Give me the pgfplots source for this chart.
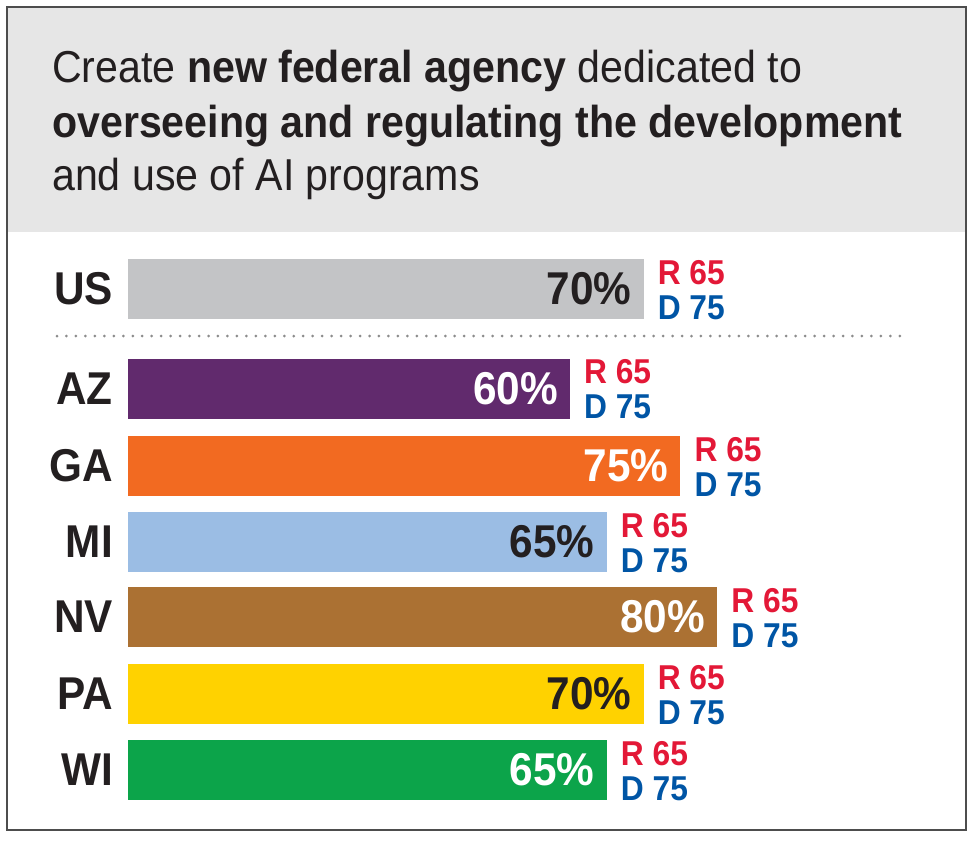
\documentclass[border=0pt]{standalone}
\usepackage{pgfplots}
\pgfplotsset{compat=1.18}
\usepackage{fontspec}
\setmainfont[FakeStretch=0.92]{Liberation Sans}

\definecolor{inkdark}{HTML}{231F20}
\definecolor{headgrey}{HTML}{E6E6E6}
\definecolor{framegrey}{HTML}{4D4D4D}
\definecolor{dotgrey}{HTML}{8C8C8C}
\definecolor{cUS}{HTML}{C3C4C6}
\definecolor{cAZ}{HTML}{612A6D}
\definecolor{cGA}{HTML}{F26A21}
\definecolor{cMI}{HTML}{9BBDE4}
\definecolor{cNV}{HTML}{AB7133}
\definecolor{cPA}{HTML}{FFD200}
\definecolor{cWI}{HTML}{0CA44A}
\definecolor{rep}{HTML}{E31837}
\definecolor{dem}{HTML}{0055A5}

\newcommand{\titlefont}{\fontsize{44.7}{54}\selectfont}
\newcommand{\statefont}{\fontsize{46}{50}\selectfont\bfseries}
\newcommand{\valfont}{\fontsize{46}{50}\selectfont\bfseries}
\newcommand{\pfont}{\fontsize{34.5}{35}\selectfont\bfseries}

% one horizontal bar per row; value label sits inside the bar's end
\pgfplotsset{
  hbar/.style 2 args={xbar, bar shift=0pt, bar width=60, draw=none, fill=#1,
    point meta=x,
    nodes near coords={\pgfmathprintnumber{\pgfplotspointmeta}\%},
    every node near coord/.append style={anchor=east, xshift=-12pt,
      font=\valfont, text=#2, inner sep=0pt}},
}

% row label with party split, placed right of the bar end
\newcommand{\rowlabels}[5]{%
  \node[anchor=east, font=\statefont, text=inkdark, inner sep=0pt]
    at (axis cs:0,#2) [xshift=-15pt] {#1};
  \node[anchor=west, align=left, font=\pfont, inner sep=0pt]
    at (axis cs:#3,#2) [xshift=14pt, yshift=-1pt]
    {\textcolor{rep}{R #4}\\[0pt]\textcolor{dem}{D #5}};
}

\begin{document}
\begin{tikzpicture}
\begin{scope}[x=1pt, y=-1pt]
  \path (0,0) rectangle (978,846);
  \fill[headgrey] (7,7) rectangle (966,232);
  \draw[framegrey, line width=2.6pt] (7,7) rectangle (966,830);
  \node[anchor=base west, inner sep=0pt, text=inkdark, font=\titlefont]
    at (52,82) {Create \textbf{new federal agency} dedicated to};
  \node[anchor=base west, inner sep=0pt, text=inkdark, font=\titlefont]
    at (52,137) {\textbf{overseeing and regulating the development}};
  \node[anchor=base west, inner sep=0pt, text=inkdark, font=\titlefont]
    at (52,190) {and use of AI programs};
  \draw[dotgrey, line width=3pt, line cap=round, dash pattern=on 0pt off 9.47pt]
    (57,336) -- (908,336);
\end{scope}

\begin{axis}[
  at={(0pt,0pt)}, anchor=north west,
  scale only axis, width=978pt, height=846pt,
  xmin=-17.38, xmax=115.41,
  ymin=0, ymax=846, y dir=reverse,
  hide axis, clip=false,
  /pgf/number format/assume math mode=true,
]
  \addplot[hbar={cUS}{inkdark}] coordinates {(70,289)};
  \addplot[hbar={cAZ}{white}]   coordinates {(60,388.5)};
  \addplot[hbar={cGA}{white}]   coordinates {(75,466)};
  \addplot[hbar={cMI}{inkdark}] coordinates {(65,542)};
  \addplot[hbar={cNV}{white}]   coordinates {(80,617)};
  \addplot[hbar={cPA}{inkdark}] coordinates {(70,694)};
  \addplot[hbar={cWI}{white}]   coordinates {(65,770)};

  \rowlabels{US}{289}{70}{65}{75}
  \rowlabels{AZ}{388.5}{60}{65}{75}
  \rowlabels{GA}{466}{75}{65}{75}
  \rowlabels{MI}{542}{65}{65}{75}
  \rowlabels{NV}{617}{80}{65}{75}
  \rowlabels{PA}{694}{70}{65}{75}
  \rowlabels{WI}{770}{65}{65}{75}
\end{axis}
\end{tikzpicture}
\end{document}
